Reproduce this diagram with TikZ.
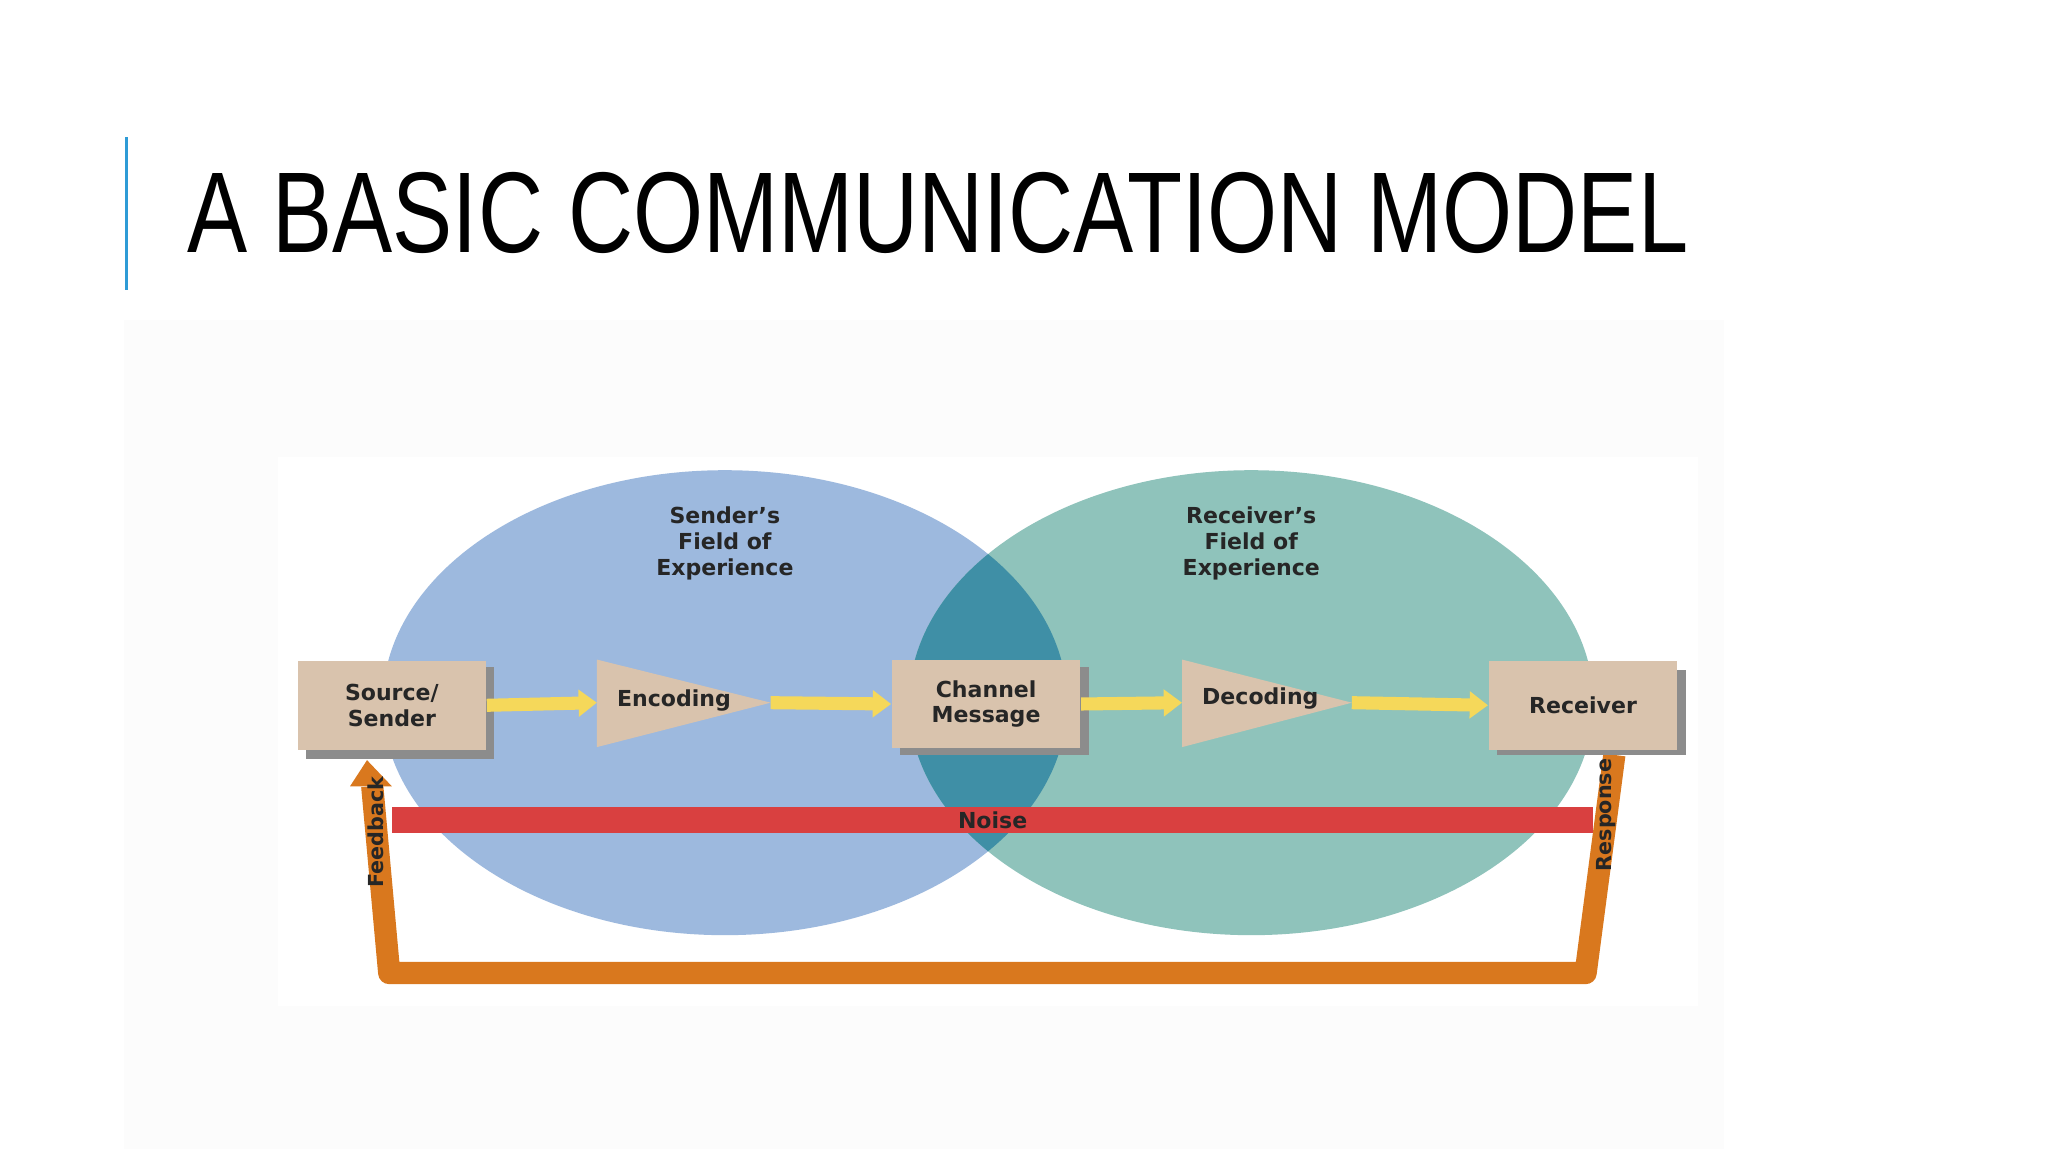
\documentclass[tikz,border=0pt]{standalone}
\usepackage{fontspec}
\setmainfont{Liberation Sans}
\newfontfamily\dfont{DejaVu Sans}
\usetikzlibrary{arrows.meta}
\definecolor{lblue}{HTML}{9DB9DE}
\definecolor{lteal}{HTML}{8FC3BB}
\definecolor{dteal}{HTML}{3F8FA6}
\definecolor{tan}{HTML}{D9C3AD}
\definecolor{yel}{HTML}{F5D85A}
\definecolor{nred}{HTML}{D94040}
\definecolor{orng}{HTML}{D9781E}
\definecolor{tline}{HTML}{2E9BD6}
\tikzset{
 box/.style={fill=tan,minimum width=1.44cm,minimum height=0.68cm,align=center,font=\dfont\bfseries\fontsize{4.8}{5.6}\selectfont,text=black!85},
 lbl/.style={align=center,font=\dfont\bfseries\fontsize{4.8}{5.6}\selectfont,text=black!85},
 vlbl/.style={rotate=90,font=\dfont\bfseries\fontsize{4.5}{5}\selectfont,text=black!85},
 yarr/.style={yel,line width=0.1cm,-{Triangle[length=0.14cm,width=0.2cm]}},
}
\begin{document}
\begin{tikzpicture}[x=0.01cm,y=-0.01cm]
\useasboundingbox (0,0) rectangle (1568,882);
\fill[white] (0,0) rectangle (1568,882);
\fill[black!1] (95,245) rectangle (1320,880);
\fill[white] (213,350) rectangle (1300,770);
% title
\draw[tline,line width=0.025cm] (97,105) -- (97,222);
\node[anchor=base west,inner sep=0,xscale=0.785,font=\fontsize{25}{25}\selectfont] (title) at (143,193) {A BASIC COMMUNICATION MODEL};
% ellipses
\fill[lblue] (555,538) ellipse [x radius=262,y radius=178];
\fill[lteal] (958,538) ellipse [x radius=262,y radius=178];
\begin{scope}
\clip (555,538) ellipse [x radius=262,y radius=178];
\fill[dteal] (958,538) ellipse [x radius=262,y radius=178];
\end{scope}
\node[lbl] (sf) at (555,416) {Sender’s\\Field of\\Experience};
\node[lbl] (rf) at (958,416) {Receiver’s\\Field of\\Experience};
% feedback loop
\draw[orng,line width=0.17cm,line join=round] (1236,578) -- (1214,745) -- (298,745) -- (285,602);
\fill[orng] (268,602) -- (300,602) -- (281,582) -- cycle;
\node[vlbl] (fb) at (288,637) {Feedback};
\node[vlbl] (rs) at (1230,624) {Response};
% noise
\fill[nred] (300,618) rectangle (1220,638);
\node[lbl] (noise) at (760,628) {Noise};
% boxes
\fill[black!45] (234,511) rectangle (378,581);
\node[box] (src) at (300,540) {Source/\\Sender};
\fill[black!45] (689,511) rectangle (834,578);
\node[box] (ch) at (755,539) {Channel\\Message};
\fill[black!45] (1146,513) rectangle (1291,578);
\node[box] (rcv) at (1212,540) {Receiver};
% triangles
\fill[tan] (457,505) -- (590,538) -- (457,572) -- cycle;
\node[lbl,anchor=west] (enc) at (460,536) {Encoding};
\fill[tan] (905,505) -- (1035,538) -- (905,572) -- cycle;
\node[lbl,anchor=west] (dec) at (908,535) {Decoding};
% yellow arrows
\draw[yarr] (src.east) -- (457,538);
\draw[yarr] (590,538) -- (ch.west);
\draw[yarr] (ch.east) -- (905,538);
\draw[yarr] (1035,538) -- (rcv.west);
\end{tikzpicture}
\end{document}
